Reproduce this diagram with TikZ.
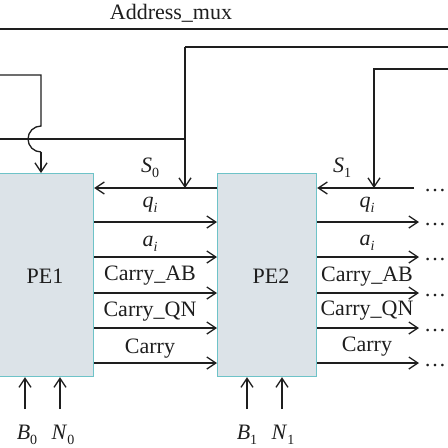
\documentclass[tikz,border=0pt]{standalone}
\usepackage{fontspec}
\setmainfont{Liberation Serif}
\usetikzlibrary{arrows.meta}
\definecolor{boxfill}{RGB}{220,227,232}
\definecolor{boxline}{RGB}{110,195,200}
\definecolor{ink}{RGB}{30,30,30}
\newcommand{\vsub}[2]{\textit{#1}\raisebox{-0.22em}{\fontsize{14}{14}\selectfont #2}}
\begin{document}
\begin{tikzpicture}[x=1pt,y=-1pt,
  wire/.style={draw=ink,line width=1.3pt},
  arr/.style={wire,-{Straight Barb[length=9pt,width=12pt]}},
  pe/.style={draw=boxline,fill=boxfill,line width=1.2pt,inner sep=0pt,anchor=north west},
  lbl/.style={font=\fontsize{22}{26}\selectfont,text=ink,inner sep=0pt}]
\useasboundingbox (0,0) rectangle (448,448);
\clip (0,0) rectangle (448,448);
% boxes
\node[pe,minimum width=98pt,minimum height=203pt] (pe1) at (-5,173) {};
\node[pe,minimum width=99pt,minimum height=203pt] (pe2) at (217,173) {};
\node[lbl] (pe1t) at (45,276) {PE1};
\node[lbl] (pe2t) at (271,276) {PE2};
% address bus
\node[lbl] (addr) at (171,13) {Address\_mux};
\coordinate (a0) at (0,29); \coordinate (a1) at (448,29);
\draw[wire] (a0) -- (a1);
\coordinate (b0) at (185,47); \coordinate (b1) at (448,47);
\draw[wire] (b1) -- (b0);
\coordinate (c0) at (0,139); \coordinate (c1) at (185,139);
\draw[wire] (c0) -- (c1);
\coordinate (s0) at (185,188);
\draw[arr] (b0) -- (s0);
% left hop wire
\coordinate (h0) at (0,75); \coordinate (h1) at (41,75); \coordinate (h2) at (41,126);
\coordinate (h3) at (41,173);
\draw[wire] (h0) -- (h1) -- (h2) arc[start angle=90,end angle=270,radius=13pt] coordinate (h4);
\draw[arr] (h4) -- (h3);
% S1 wire
\coordinate (t0) at (448,69); \coordinate (t1) at (374,69); \coordinate (t2) at (374,188);
\draw[arr] (t0) -- (t1) -- (t2);
% S lines
\coordinate (rs) at (0,188);
\draw[arr] (pe2.west |- rs) -- (pe1.east |- rs);
\coordinate (rse) at (414,188);
\draw[arr] (rse) -- (pe2.east |- rs);
\node[lbl,anchor=base west] (d0) at (424,191) {\dots};
\node[lbl] (s0l) at (150,168) {\vsub{S}{0}};
\node[lbl] (s1l) at (342,168) {\vsub{S}{1}};
% signal rows
\foreach \y/\n/\t/\ly/\ry in {222/1/\vsub{q}{\textit{i}}/205/205, 257/2/\vsub{a}{\textit{i}}/244/243, 293/3/Carry\_AB/276/277, 328/4/Carry\_QN/312/311, 363/5/Carry/349/347}{
  \coordinate (r\n) at (0,\y);
  \coordinate (o\n) at (419,\y);
  \draw[arr] (pe1.east |- r\n) -- (pe2.west |- r\n);
  \draw[arr] (pe2.east |- r\n) -- (o\n);
  \node[lbl,anchor=base west] (d\n) at (424,\y+3) {\dots};
  \node[lbl] (ll\n) at (150,\ly) {\t};
  \node[lbl] (rl\n) at (367,\ry) {\t};
}
% bottom inputs
\coordinate (in0) at (25,409); \coordinate (in1) at (60,409);
\coordinate (in2) at (247,409); \coordinate (in3) at (282,409);
\draw[arr] (in0) -- (in0 |- pe1.south);
\draw[arr] (in1) -- (in1 |- pe1.south);
\draw[arr] (in2) -- (in2 |- pe2.south);
\draw[arr] (in3) -- (in3 |- pe2.south);
\node[lbl] (B0) at (27,435) {\vsub{B}{0}};
\node[lbl] (N0) at (63,435) {\vsub{N}{0}};
\node[lbl] (B1) at (247,435) {\vsub{B}{1}};
\node[lbl] (N1) at (283,435) {\vsub{N}{1}};
\end{tikzpicture}
\end{document}
